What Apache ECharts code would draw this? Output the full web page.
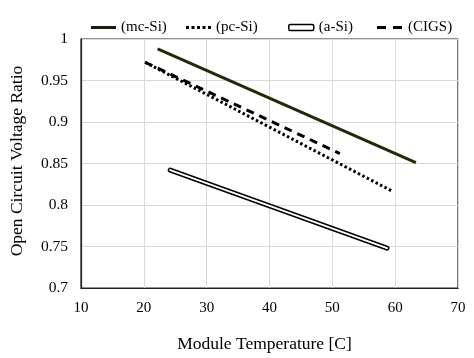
<!DOCTYPE html>
<html><head><meta charset="utf-8">
<script src="https://cdn.jsdelivr.net/npm/echarts@6/dist/echarts.min.js"></script>
<style>html,body{margin:0;padding:0;background:#fff}#c{width:474px;height:358px}</style>
</head><body><div id="c"></div>
<script>
const seriesNames = ['(mc-Si)', '(pc-Si)', '(a-Si)', '(CIGS)'];
const mcSi = [[22.2, 0.988], [63.3, 0.851]];
const pcSi = [[20.2, 0.972], [59.7, 0.816]];
const aSi = [[24.2, 0.842], [58.7, 0.748]];
const cigs = [[20.2, 0.972], [51.2, 0.862]];
const xTicks = [10, 20, 30, 40, 50, 60, 70];
const yTicks = [0.7, 0.75, 0.8, 0.85, 0.9, 0.95, 1];

const font = 'Liberation Serif';
const chart = echarts.init(document.getElementById('c'));
function lg(left, item, pad, extra) {
  return Object.assign({
    top: 15, left: left, itemWidth: 25, itemHeight: 3,
    textStyle: {fontFamily: font, fontSize: 15, color: '#000', padding: [0, 0, 0, pad]},
    data: [item]
  }, extra || {});
}
chart.setOption({
  animation: false,
  legend: [
    lg(86, {name: seriesNames[0], icon: 'path://M0,0h25v3h-25z', itemStyle: {color: '#1e1c08'}}, 0),
    lg(181, {name: seriesNames[1], icon: 'path://M0,0h3v3h-3zM5.5,0h3v3h-3zM11,0h3v3h-3zM16.5,0h3v3h-3zM22,0h3v3h-3z', itemStyle: {color: '#000'}}, 0),
    lg(283, {name: seriesNames[2], icon: 'roundRect', itemStyle: {color: '#fff', borderColor: '#000', borderWidth: 1.5}}, 0, {itemHeight: 6}),
    lg(372, {name: seriesNames[3], icon: 'path://M0,0h9v3h-9zM16,0h9v3h-9z', itemStyle: {color: '#000'}}, 1)
  ],
  grid: {left: 81, right: 16, top: 39, bottom: 67, show: true, borderColor: '#222', borderWidth: 1.2, containLabel: false},
  xAxis: {
    type: 'value', min: xTicks[0], max: xTicks[xTicks.length - 1], interval: 10,
    name: 'Module Temperature [C]', nameLocation: 'middle', nameGap: 47,
    nameTextStyle: {fontFamily: font, fontSize: 17.5, color: '#000', padding: [0, 10, 0, 0]},
    axisLine: {show: true, lineStyle: {color: '#222', width: 1.2}},
    axisTick: {show: false},
    axisLabel: {fontFamily: font, fontSize: 15, color: '#000', margin: 13},
    splitLine: {show: true, lineStyle: {color: '#d9d9d9', width: 1}}
  },
  yAxis: {
    type: 'value', min: yTicks[0], max: yTicks[yTicks.length - 1], interval: 0.05,
    name: 'Open Circuit Voltage Ratio', nameLocation: 'middle', nameGap: 55,
    nameTextStyle: {fontFamily: font, fontSize: 17.5, color: '#000', padding: [0, 0, 0, 5]},
    axisLine: {show: true, lineStyle: {color: '#222', width: 1.2}},
    axisTick: {show: false},
    axisLabel: {fontFamily: font, fontSize: 15.5, color: '#000', margin: 13, formatter: v => String(+v.toFixed(2))},
    splitLine: {show: true, lineStyle: {color: '#d9d9d9', width: 1}}
  },
  series: [
    {name: seriesNames[0], type: 'line', data: mcSi, symbol: 'none', lineStyle: {color: '#2a260c', width: 3}, itemStyle: {color: '#2a260c'}},
    {name: seriesNames[1], type: 'line', data: pcSi, symbol: 'none', lineStyle: {color: '#000', width: 3, type: [2.5, 2.5]}, itemStyle: {color: '#000'}},
    {name: seriesNames[2], type: 'line', data: aSi, symbol: 'none', lineStyle: {color: '#000', width: 5, cap: 'round'}, itemStyle: {color: '#000'}},
    {name: 'aSiCore', type: 'line', data: aSi, symbol: 'none', lineStyle: {color: '#fff', width: 2, cap: 'round'}, silent: true},
    {name: seriesNames[3], type: 'line', data: cigs, symbol: 'none', lineStyle: {color: '#000', width: 3, type: [8, 6]}, itemStyle: {color: '#000'}}
  ]
});
</script></body></html>
